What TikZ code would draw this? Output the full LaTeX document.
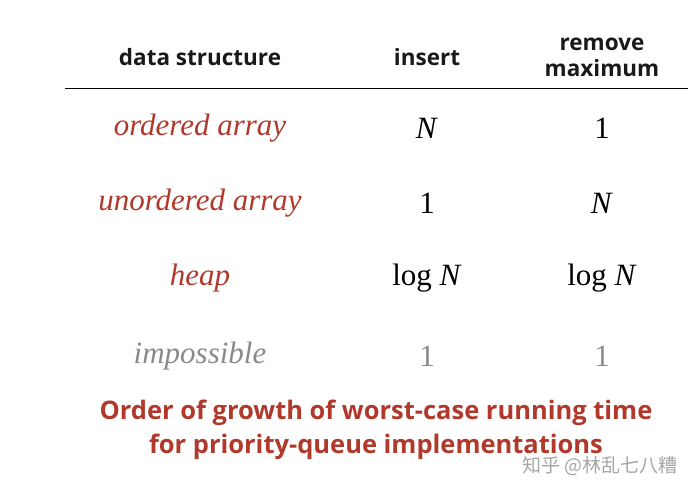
\documentclass[tikz,border=0pt]{standalone}
\usepackage{fontspec}
\setmainfont{Liberation Serif}
\newfontfamily\hdr{Open Sans}
\newfontfamily\cjk{Noto Sans CJK SC}
\definecolor{rd}{HTML}{B0392B}
\definecolor{gr}{HTML}{8A8A8A}
\begin{document}
\begin{tikzpicture}[x=1pt,y=-1pt,
  head/.style={font=\hdr\fontsize{22.5}{26}\selectfont\bfseries,align=center,text=black!90},
  ds/.style={font=\fontsize{31}{34}\selectfont\itshape,text=rd},
  val/.style={font=\fontsize{31}{34}\selectfont},
  captext/.style={font=\hdr\fontsize{25.5}{34}\selectfont\bfseries,text=rd,align=center}]
\useasboundingbox (0,0) rectangle (698,498);
\node[head] (h1) at (200,57) {data structure};
\node[head] (h2) at (427,57) {insert};
\node[head] (h3) at (602,57) {remove\\maximum};
\coordinate (la) at (65,88); \coordinate (lb) at (688,88);
\draw[line width=0.9pt] (la) -- (lb);
\node[ds] (r1) at (200,128) {ordered array};
\node[val] (r1a) at (427,128) {\textit{N}};
\node[val] (r1b) at (602,128) {1};
\node[ds] (r2) at (200,203) {unordered array};
\node[val] (r2a) at (427,203) {1};
\node[val] (r2b) at (602,203) {\textit{N}};
\node[ds] (r3) at (200,278) {heap};
\node[val] (r3a) at (427,278) {log \textit{N}};
\node[val] (r3b) at (602,278) {log \textit{N}};
\node[ds,text=gr] (r4) at (200,356) {impossible};
\node[val,text=gr] (r4a) at (427,356) {1};
\node[val,text=gr] (r4b) at (602,356) {1};
\node[captext] (c) at (376,430) {Order of growth of worst-case running time\\for priority-queue implementations};
\node[font=\cjk\fontsize{19}{21}\selectfont,text=black!35] (w) at (600,466) {知乎 @林乱七八糟};
\end{tikzpicture}
\end{document}
